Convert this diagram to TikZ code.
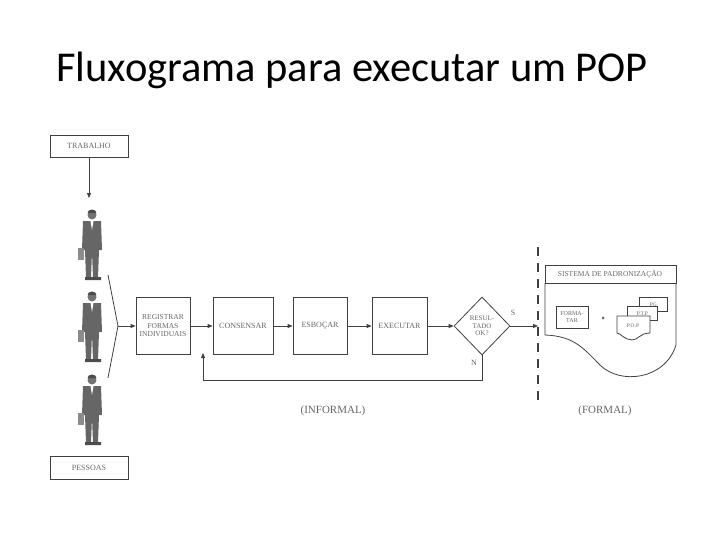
\documentclass[tikz,border=0pt]{standalone}
\usepackage{fontspec}
\setmainfont{Liberation Serif}
\newfontfamily\titlefont{Carlito}
\usetikzlibrary{arrows.meta,shapes.geometric}
\begin{document}
\begin{tikzpicture}[x=1pt,y=-1pt,
  bx/.style={draw=black!75,line width=0.8pt,text=black!60,font=\fontsize{8}{8.5}\selectfont,align=center,inner sep=0pt},
  ar/.style={draw=black!75,line width=0.8pt,-{Triangle[length=5pt,width=4pt]}},
  ln/.style={draw=black!75,line width=0.8pt},
  lbl/.style={text=black!60,font=\fontsize{8}{9}\selectfont}]
\useasboundingbox (0,0) rectangle (728,546);
\node[font=\titlefont\fontsize{42.5}{46}\selectfont,anchor=west,inner sep=0pt] (title) at (56,70) {Fluxograma para executar um POP};
\node[bx,minimum width=78pt,minimum height=22pt] (trab) at (89,146) {TRABALHO};
\node[bx,minimum width=78pt,minimum height=23pt] (pess) at (89,468) {PESSOAS};
\coordinate (tend) at (89,198);
\draw[ar] (trab) -- (tend);
% people
\foreach \n/\y in {p1/210,p2/292,p3/375}{
  \begin{scope}[shift={(92,\y)}]
   \fill[black!55] (0,5) circle (4.5);
   \fill[black!70] (-4.5,3) arc (180:360:4.5 and 3.5) -- cycle;
   \fill[black!60] (-9,11) -- (9,11) -- (10,40) -- (7,40) -- (6,68) -- (1,68) -- (0,42) -- (-1,68) -- (-6,68) -- (-7,40) -- (-10,40) -- cycle;
   \fill[white] (-1.5,11) -- (1.5,11) -- (0,20) -- cycle;
   \fill[black!45] (-14,38) rectangle (-8,50);
   \fill[black!70] (-7,67) rectangle (1,70) (1,67) rectangle (9,70);
  \end{scope}
  \coordinate (\n) at (92,\y+35);
}
\node[bx,minimum width=54pt,minimum height=57pt,font=\fontsize{7.5}{8.5}\selectfont] (reg) at (163,326) {REGISTRAR\\FORMAS\\INDIVIDUAIS};
\node[bx,minimum width=60pt,minimum height=57pt] (cons) at (243,326) {CONSENSAR};
\node[bx,minimum width=54pt,minimum height=57pt] (esb) at (320,326) {ESBOÇAR};
\node[bx,minimum width=55pt,minimum height=57pt] (exe) at (399.5,326) {EXECUTAR};
\node[bx,shape=diamond,minimum width=56pt,minimum height=58pt] (dec) at (482,326) {};
\node[lbl,align=center,font=\fontsize{7}{7.5}\selectfont] (dect) at (482,326) {RESUL-\\TADO\\OK?};
\coordinate (bt) at (108,275); \coordinate (bm) at (118,326); \coordinate (bb) at (108,378);
\draw[ln] (bt) -- (bm) -- (bb);
\draw[ar] (bm) -- (reg);
\draw[ar] (reg) -- (cons);
\draw[ar] (cons) -- (esb);
\draw[ar] (esb) -- (exe);
\draw[ar] (exe) -- (dec);
\coordinate (fb) at (203,353);
\draw[ar] (dec.south) -- (482,380) -- (203,380) -- (fb);
\node[lbl] (nl) at (474,363) {N};
\node[lbl] (sl) at (513,313) {S};
\coordinate (sy) at (538,326);
\draw[ar] (dec.east) -- (sy);
\coordinate (d1) at (538,247); \coordinate (d2) at (538,405);
\draw[black!75,line width=2pt,dash pattern=on 9pt off 7pt] (d1) -- (d2);
\node[lbl,font=\fontsize{11}{12}\selectfont] (inf) at (333,411) {(INFORMAL)};
\node[lbl,font=\fontsize{11}{12}\selectfont] (for) at (605,411) {(FORMAL)};
% sistema shape
\draw[ln] (545,265) rectangle (676,283);
\node[lbl,font=\fontsize{7.5}{8}\selectfont] (sis) at (610,274) {SISTEMA DE PADRONIZAÇÃO};
\draw[ln] (545,283) -- (545,335) .. controls (575,336) and (585,350) .. (600,365) .. controls (620,385) and (665,380) .. (676,345) -- (676,283);
\node[bx,minimum width=32pt,minimum height=22pt,font=\fontsize{6}{6.5}\selectfont] (fmt) at (572,317) {FORMA-\\TAR};
\fill[black!60] (603,318) circle (1.5);
\node[bx,fill=white,minimum width=28pt,minimum height=14pt,anchor=north west,font=\fontsize{5.5}{6}\selectfont] (pg) at (639,297) {PG};
\node[bx,fill=white,minimum width=30pt,minimum height=14pt,anchor=north west,font=\fontsize{5.5}{6}\selectfont] (ptp) at (627,306) {P.T.P};
\draw[ln,fill=white] (617,316) -- (650,316) -- (650,333) .. controls (640,333) and (638,340) .. (632,340) .. controls (625,340) and (620,333) .. (617,333) -- cycle;
\node[lbl,font=\fontsize{5.5}{6}\selectfont] (pop) at (633,326) {P.O.P};
\end{tikzpicture}
\end{document}
